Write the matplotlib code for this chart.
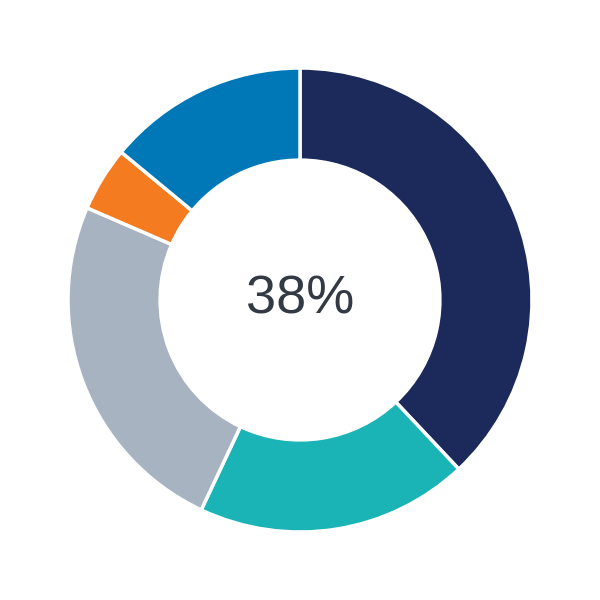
import matplotlib.pyplot as plt

# Data
labels = ['Navy', 'Teal', 'Gray', 'Orange', 'Blue']
values = [38, 19, 24.5, 4.5, 14]
colors = ['#1b2a5a', '#1ab4b7', '#a8b3c1', '#f47b20', '#0077b6']
center_text = '38%'

fig = plt.figure(figsize=(6, 6), dpi=100)
ax = fig.add_axes([0, 0, 1, 1])
ax.pie(values, colors=colors, startangle=90, counterclock=False, radius=1,
       wedgeprops=dict(width=0.397, edgecolor='white', linewidth=2.5))
ax.text(0, 0, center_text, ha='center', va='center', fontsize=39,
        color='#333a44', family='Liberation Sans')
lim = 300 / 232
ax.set_xlim(-lim, lim)
ax.set_ylim(-lim, lim)
ax.set_aspect('equal')
ax.axis('off')

fig.savefig('out.png', dpi=100)
